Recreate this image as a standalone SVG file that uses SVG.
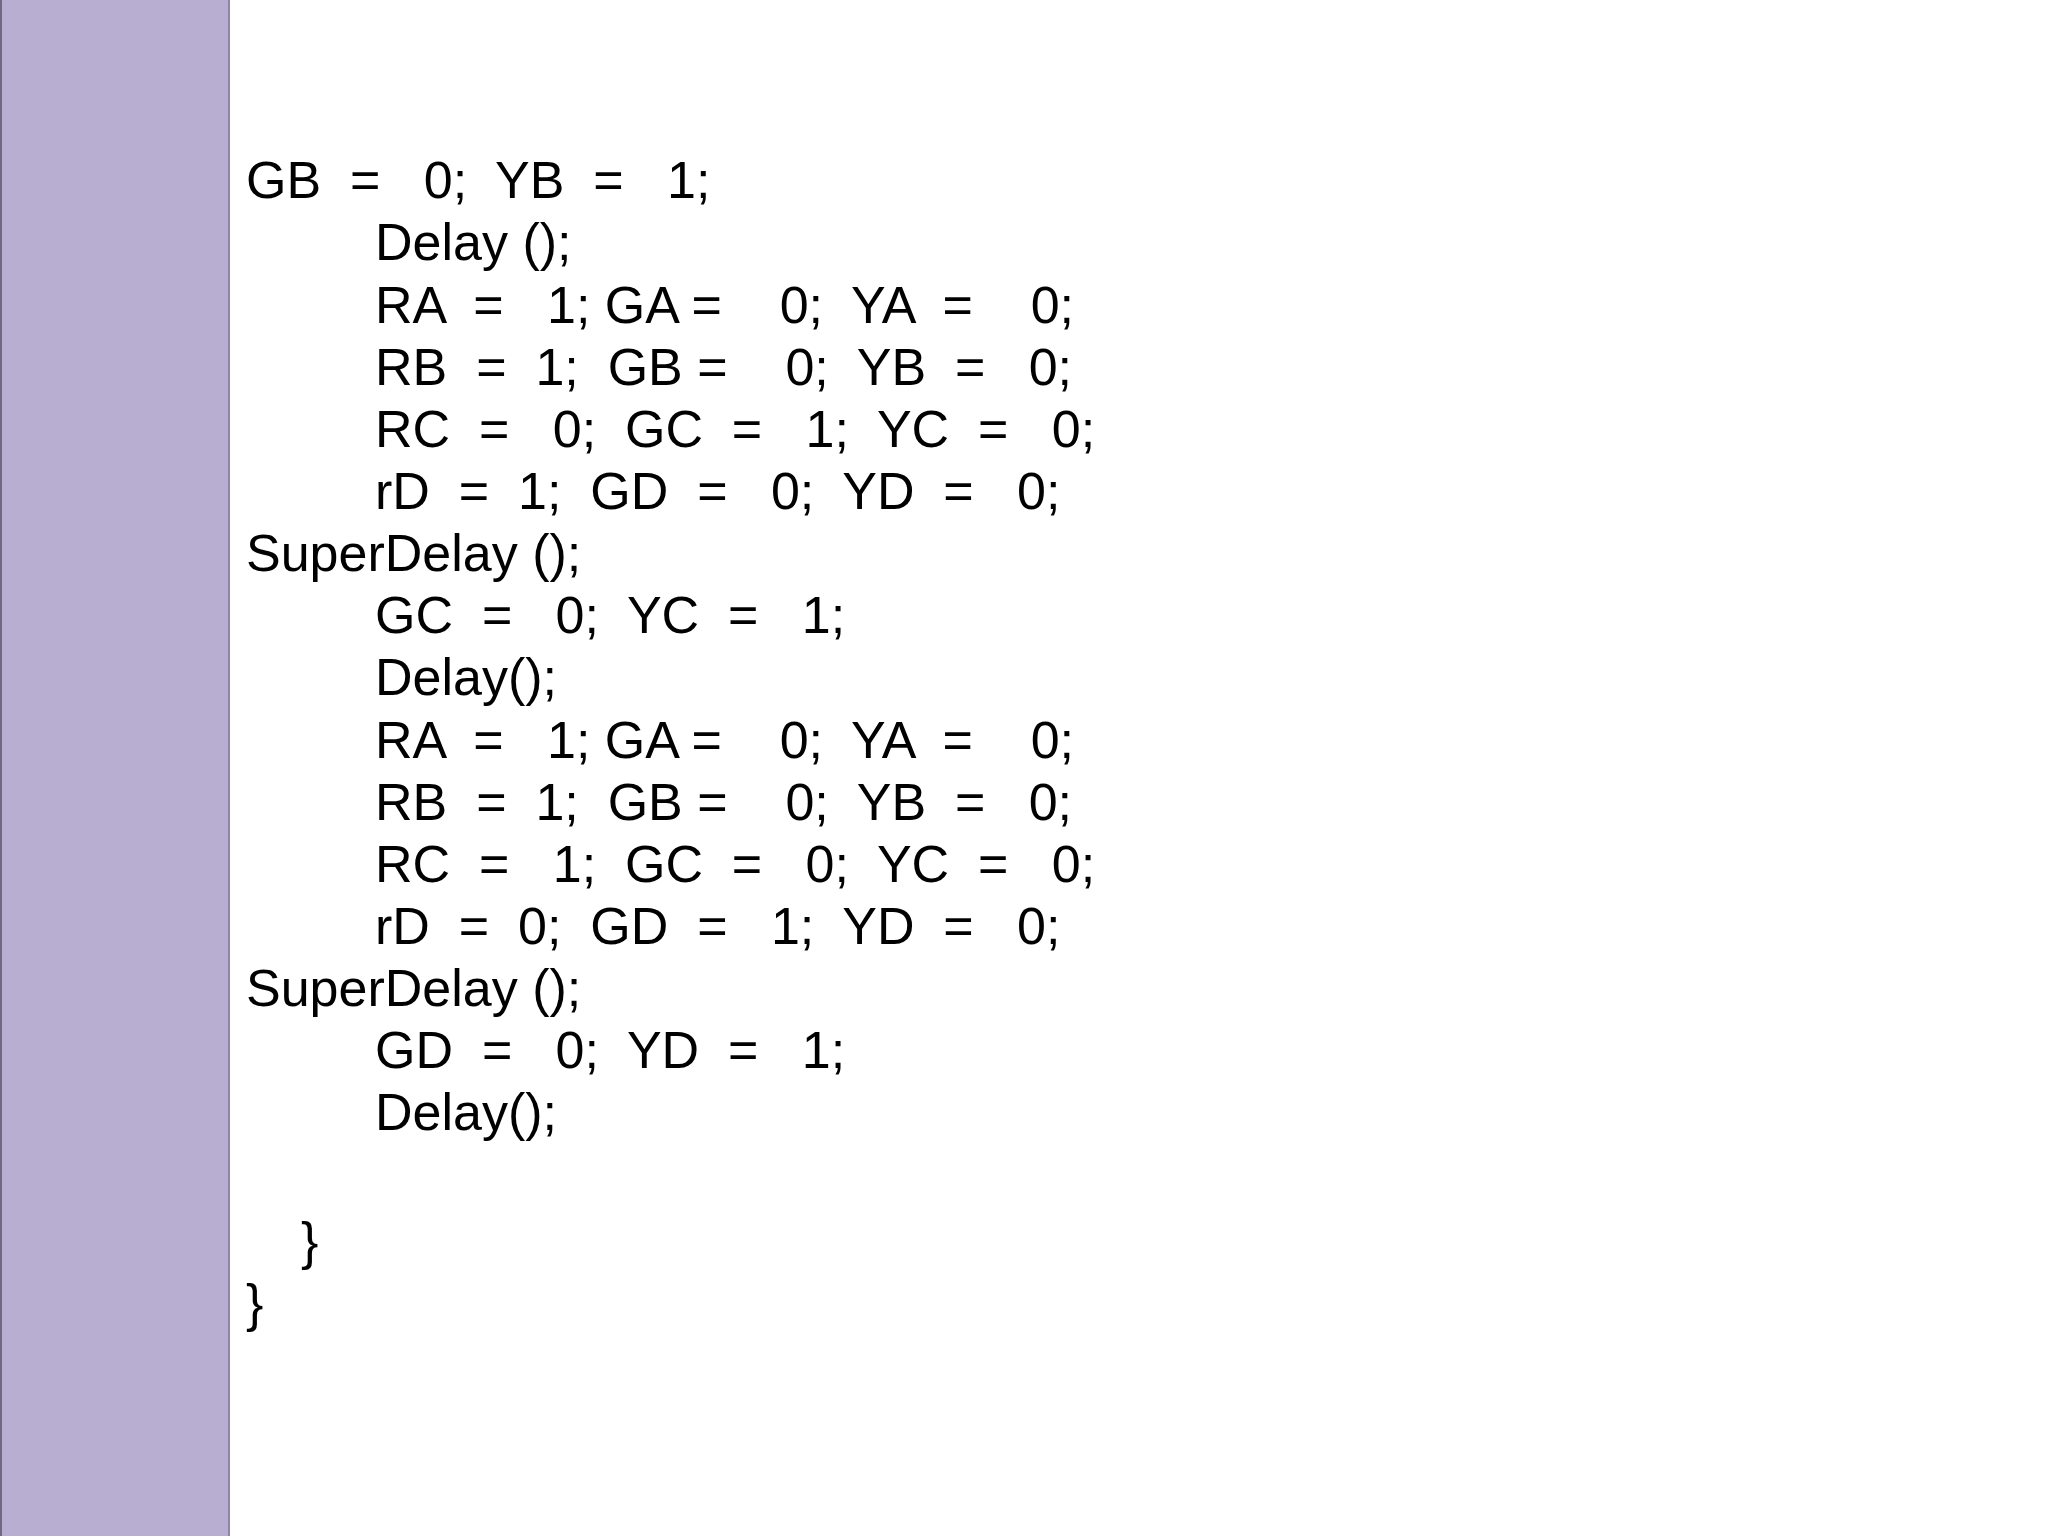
<svg xmlns="http://www.w3.org/2000/svg" width="2048" height="1536" viewBox="0 0 2048 1536">
<style>
text{font-family:"Liberation Sans",Arial,sans-serif;font-size:52px;fill:#000;white-space:pre}
</style>
<rect width="2048" height="1536" fill="#fff"/>
<g id="sidebar"><rect x="0" y="0" width="230" height="1536" fill="#b8aed2"/><line x1="229" y1="0" x2="229" y2="1536" stroke="#8f85a8" stroke-width="2"/><line x1="1" y1="0" x2="1" y2="1536" stroke="#6f6880" stroke-width="2"/></g>
<g id="code">
<text x="246" y="198">GB  =   0;  YB  =   1;</text>
<text x="375" y="260">Delay ();</text>
<text x="375" y="323">RA  =   1; GA =    0;  YA  =    0;</text>
<text x="375" y="385">RB  =  1;  GB =    0;  YB  =   0;</text>
<text x="375" y="447">RC  =   0;  GC  =   1;  YC  =   0;</text>
<text x="375" y="509">rD  =  1;  GD  =   0;  YD  =   0;</text>
<text x="246" y="571">SuperDelay ();</text>
<text x="375" y="633">GC  =   0;  YC  =   1;</text>
<text x="375" y="695">Delay();</text>
<text x="375" y="758">RA  =   1; GA =    0;  YA  =    0;</text>
<text x="375" y="820">RB  =  1;  GB =    0;  YB  =   0;</text>
<text x="375" y="882">RC  =   1;  GC  =   0;  YC  =   0;</text>
<text x="375" y="944">rD  =  0;  GD  =   1;  YD  =   0;</text>
<text x="246" y="1006">SuperDelay ();</text>
<text x="375" y="1068">GD  =   0;  YD  =   1;</text>
<text x="375" y="1130">Delay();</text>
<text x="301" y="1259">}</text>
<text x="246" y="1321">}</text>
</g>
</svg>
